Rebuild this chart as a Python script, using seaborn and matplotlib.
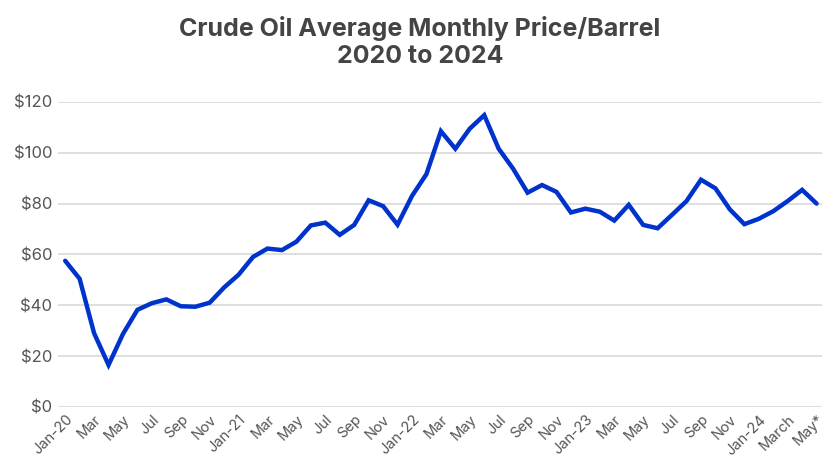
import numpy as np
import pandas as pd
import seaborn as sns
from matplotlib import pyplot as plt, ticker

# monthly average price per barrel, Jan 2020 .. May 2024
prices = [
    57.5, 50.4, 29.0, 16.5, 28.7, 38.2, 40.8, 42.3, 39.6, 39.4, 41.0, 47.0,   # 2020
    52.0, 59.0, 62.3, 61.7, 65.0, 71.4, 72.5, 67.7, 71.6, 81.3, 79.0, 71.7,   # 2021
    83.0, 91.6, 108.5, 101.6, 109.5, 114.8, 101.6, 93.7, 84.3, 87.3, 84.6, 76.5,  # 2022
    78.0, 76.8, 73.3, 79.5, 71.6, 70.3, 75.6, 81.0, 89.4, 86.0, 77.7, 71.9,   # 2023
    74.0, 77.0, 81.0, 85.4, 80.0,                                             # 2024
]
tick_labels = [
    "Jan-20", "Mar", "May", "Jul", "Sep", "Nov",
    "Jan-21", "Mar", "May", "Jul", "Sep", "Nov",
    "Jan-22", "Mar", "May", "Jul", "Sep", "Nov",
    "Jan-23", "Mar", "May", "Jul", "Sep", "Nov",
    "Jan-24", "March", "May*",
]

df = pd.DataFrame({"month": np.arange(len(prices)), "price": prices})

sns.set_theme(style="white")
plt.rcParams['font.family'] = ['Inter', 'DejaVu Sans']

fig = plt.figure(figsize=(8.4, 4.72), dpi=100)
ax = fig.add_axes([0.069, 0.138, 0.910, 0.646])

sns.lineplot(data=df, x="month", y="price", color="#0033cc", linewidth=3.2,
             solid_joinstyle="miter", ax=ax)

ax.set_ylim(0, 120)
ax.set_xlim(-0.5, 52.4)
ax.yaxis.set_major_locator(ticker.MultipleLocator(20))
ax.yaxis.set_major_formatter(ticker.FuncFormatter(lambda v, p: f"${int(v)}"))
ax.grid(axis="y", color="#d9d9d9", linewidth=1.2)
ax.set_axisbelow(True)
for s in ax.spines.values():
    s.set_visible(False)

ax.set_xticks(np.arange(0, len(prices), 2))
ax.set_xticklabels(tick_labels, rotation=45, ha="right", rotation_mode="anchor")
ax.tick_params(axis="x", labelsize=10.5, colors="#555555", length=0, pad=4)
ax.tick_params(axis="y", labelsize=12, colors="#555555", length=0, pad=4)
ax.set(xlabel="", ylabel="")

fig.text(0.5, 0.91, "Crude Oil Average Monthly Price/Barrel\n2020 to 2024",
         ha="center", va="center", fontsize=18, fontweight="bold",
         color="#444444", linespacing=1.22)

plt.savefig("out.png", dpi=100)
